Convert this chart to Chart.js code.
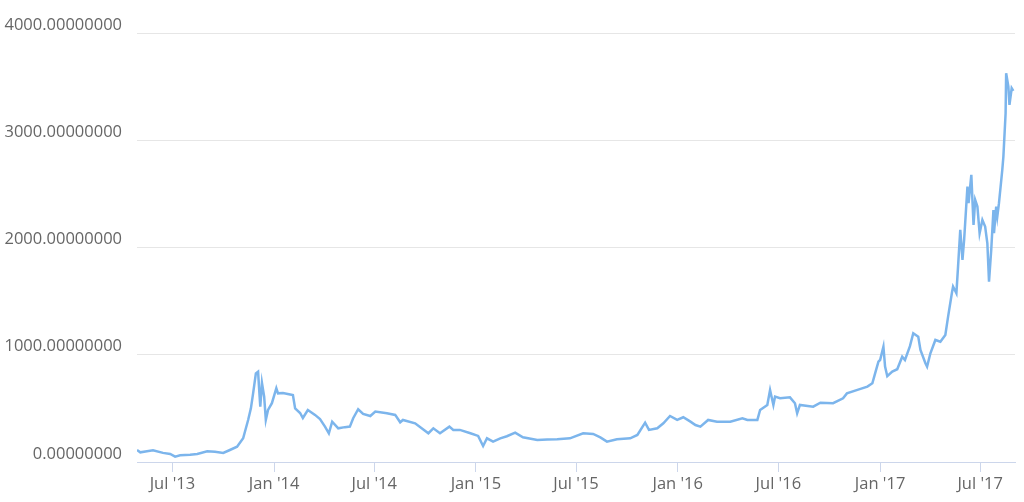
<!DOCTYPE html>
<html>
<head>
<meta charset="utf-8">
<script src="https://cdn.jsdelivr.net/npm/chart.js@4"></script>
<style>
  body { margin: 0; background: #fff; }
  canvas { display: block; }
</style>
</head>
<body>
<canvas id="priceChart" width="1024" height="502"></canvas>
<script>
// daily closing price
const dates = [
    '2013-04-28', '2013-05-04', '2013-05-16', '2013-05-27', '2013-06-14', '2013-06-27', '2013-07-06', '2013-07-15',
    '2013-08-02', '2013-08-15', '2013-09-02', '2013-09-16', '2013-10-01', '2013-10-13', '2013-10-26', '2013-11-06',
    '2013-11-15', '2013-11-20', '2013-11-24', '2013-11-29', '2013-12-03', '2013-12-05', '2013-12-07', '2013-12-10',
    '2013-12-14', '2013-12-17', '2013-12-21', '2013-12-28', '2014-01-05', '2014-01-08', '2014-01-17', '2014-01-30',
    '2014-02-04', '2014-02-08', '2014-02-17', '2014-02-22', '2014-03-03', '2014-03-16', '2014-03-25', '2014-04-03',
    '2014-04-10', '2014-04-16', '2014-04-27', '2014-05-09', '2014-05-18', '2014-05-24', '2014-06-02', '2014-06-11',
    '2014-06-24', '2014-07-03', '2014-07-24', '2014-08-08', '2014-08-17', '2014-08-22', '2014-09-13', '2014-10-07',
    '2014-10-16', '2014-10-28', '2014-11-14', '2014-11-21', '2014-12-03', '2014-12-22', '2015-01-05', '2015-01-14',
    '2015-01-21', '2015-02-01', '2015-02-14', '2015-02-26', '2015-03-13', '2015-03-27', '2015-04-22', '2015-05-10',
    '2015-05-28', '2015-06-20', '2015-07-14', '2015-08-01', '2015-08-14', '2015-08-26', '2015-09-13', '2015-10-07',
    '2015-10-20', '2015-11-03', '2015-11-10', '2015-11-25', '2015-12-06', '2015-12-18', '2015-12-31', '2016-01-11',
    '2016-01-24', '2016-02-02', '2016-02-11', '2016-02-25', '2016-03-12', '2016-04-05', '2016-04-27', '2016-05-06',
    '2016-05-24', '2016-05-29', '2016-06-11', '2016-06-16', '2016-06-22', '2016-06-25', '2016-07-04', '2016-07-22',
    '2016-07-31', '2016-08-04', '2016-08-09', '2016-09-02', '2016-09-15', '2016-10-08', '2016-10-26', '2016-11-02',
    '2016-11-21', '2016-12-09', '2016-12-18', '2016-12-23', '2016-12-29', '2017-01-01', '2017-01-07', '2017-01-10',
    '2017-01-14', '2017-01-23', '2017-02-01', '2017-02-10', '2017-02-15', '2017-02-24', '2017-03-02', '2017-03-11',
    '2017-03-15', '2017-03-24', '2017-03-27', '2017-04-02', '2017-04-11', '2017-04-20', '2017-04-29', '2017-05-04',
    '2017-05-11', '2017-05-13', '2017-05-19', '2017-05-22', '2017-05-26', '2017-05-30', '2017-06-02', '2017-06-08',
    '2017-06-10', '2017-06-15', '2017-06-19', '2017-06-22', '2017-06-26', '2017-06-30', '2017-07-05', '2017-07-10',
    '2017-07-14', '2017-07-17', '2017-07-21', '2017-07-25', '2017-07-26', '2017-07-30', '2017-08-01', '2017-08-04',
    '2017-08-10', '2017-08-12', '2017-08-16', '2017-08-17', '2017-08-21', '2017-08-23', '2017-08-27', '2017-08-30'
];
const prices = [
    112, 90, 100, 110, 85, 75, 50, 62,
    68, 75, 100, 95, 85, 112, 143, 221,
    392, 500, 640, 827, 843, 672, 516, 737,
    609, 392, 485, 548, 688, 640, 644, 630,
    625, 500, 457, 410, 485, 439, 400, 330,
    268, 376, 314, 325, 330, 408, 492, 448,
    429, 470, 454, 439, 370, 392, 361, 268,
    314, 268, 330, 299, 299, 268, 243, 149,
    221, 190, 221, 240, 274, 230, 205, 210,
    212, 221, 268, 262, 230, 190, 212, 221,
    252, 367, 299, 314, 361, 429, 392, 417,
    376, 345, 330, 392, 376, 376, 408, 392,
    392, 485, 532, 672, 532, 609, 594, 603,
    548, 454, 532, 516, 553, 548, 594, 640,
    672, 703, 734, 827, 936, 951, 1076, 889,
    800, 843, 865, 982, 951, 1080, 1200, 1169,
    1045, 921, 889, 1014, 1138, 1122, 1185, 1356,
    1580, 1636, 1574, 1822, 2164, 1884, 2071, 2569,
    2413, 2677, 2211, 2444, 2382, 2133, 2257, 2195,
    2039, 1681, 1977, 2350, 2133, 2382, 2289, 2413,
    2723, 2847, 3252, 3625, 3500, 3330, 3485, 3460
];

// axis
const xStart = '2013-04-28';
const xEnd = '2017-09-02';
const xTickDates = ['2013-07-01', '2014-01-01', '2014-07-01', '2015-01-01', '2015-07-01',
    '2016-01-01', '2016-07-01', '2017-01-01', '2017-07-01'];
const xTickLabels = ["Jul '13", "Jan '14", "Jul '14", "Jan '15", "Jul '15",
    "Jan '16", "Jul '16", "Jan '17", "Jul '17"];
const yTicks = [0, 1000, 2000, 3000, 4000];

const points = dates.map((d, i) => ({ x: Date.parse(d), y: prices[i] }));
const labelFont = { family: "'Open Sans', sans-serif", size: 16.5 };

new Chart(document.getElementById('priceChart'), {
    type: 'line',
    data: {
        datasets: [{
            label: 'Price',
            data: points,
            borderColor: '#7cb5ec',
            borderWidth: 2.5,
            pointRadius: 0,
            tension: 0,
            fill: false
        }]
    },
    options: {
        responsive: false,
        animation: false,
        layout: { padding: { top: 33, right: 9, left: 0, bottom: 0 } },
        plugins: {
            legend: { display: false },
            tooltip: { enabled: false }
        },
        scales: {
            x: {
                type: 'linear',
                min: Date.parse(xStart),
                max: Date.parse(xEnd),
                afterBuildTicks: (scale) => {
                    scale.ticks = xTickDates.map(d => ({ value: Date.parse(d) }));
                },
                afterFit: (scale) => { scale.height = 40; },
                grid: {
                    drawOnChartArea: false,
                    tickLength: 10,
                    tickColor: '#ccd6eb'
                },
                border: { color: '#ccd6eb', width: 1 },
                ticks: {
                    autoSkip: false,
                    maxRotation: 0,
                    padding: 2,
                    color: '#666666',
                    font: labelFont,
                    callback: (value, index) => xTickLabels[index]
                }
            },
            y: {
                min: 0,
                max: 4000,
                afterBuildTicks: (scale) => {
                    scale.ticks = yTicks.map(v => ({ value: v }));
                },
                afterFit: (scale) => { scale.width = 137; },
                grid: { color: '#e6e6e6', drawTicks: false },
                border: { display: false },
                ticks: {
                    padding: 15,
                    labelOffset: -8,
                    color: '#666666',
                    font: labelFont,
                    callback: (value) => value.toFixed(8)
                }
            }
        }
    }
});
</script>
</body>
</html>
